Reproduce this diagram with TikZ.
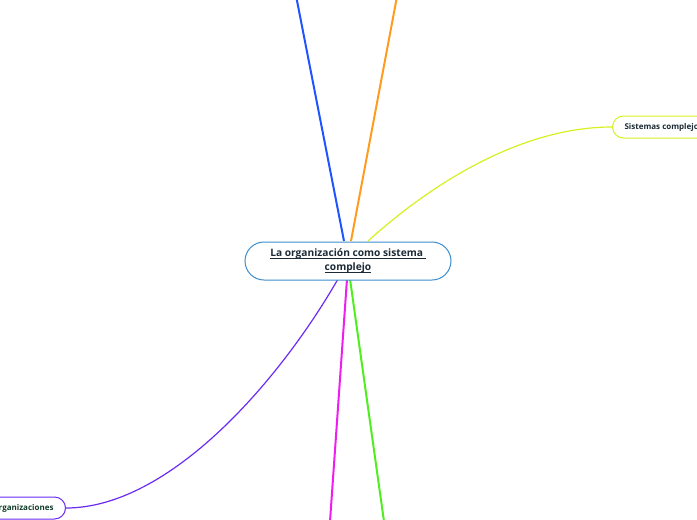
\documentclass[tikz,border=0pt]{standalone}
\usepackage{fontspec}
\setmainfont{Open Sans}
\definecolor{mainborder}{HTML}{3D8ED0}
\definecolor{textdark}{HTML}{1C2B36}
\definecolor{leftdark}{HTML}{123D2A}
\definecolor{lineblue}{HTML}{1F55FF}
\definecolor{lineorange}{HTML}{FF9C1F}
\definecolor{lineyellow}{HTML}{D6F020}
\definecolor{linepurple}{HTML}{6A2BF2}
\definecolor{linemagenta}{HTML}{EE1EEE}
\definecolor{linegreen}{HTML}{4FEE1E}
\newcommand{\undertext}[1]{\setbox0\hbox{#1}\rlap{\rule[-1.8pt]{\wd0}{0.6pt}}\box0}

\tikzset{
	topic/.style={draw, rounded corners=19pt, fill=white, line width=1pt, minimum width=206pt, minimum height=38pt, align=center, text=textdark, font=\fontsize{10.2}{14}\selectfont\bfseries},
	subtopic/.style={draw, rounded corners=11pt, fill=white, line width=1pt, minimum height=22pt, inner xsep=12pt, text=textdark, font=\fontsize{8}{9}\selectfont\bfseries},
	branch/.style={line width=2pt},
}

\begin{document}
\begin{tikzpicture}[x=1pt,y=-1pt]
	\useasboundingbox (0,0) rectangle (697,520);
	\clip (0,0) rectangle (697,520);

	\coordinate (up_left) at (291,-30);
	\coordinate (up_right) at (402,-30);
	\coordinate (down_left) at (328,550);
	\coordinate (down_right) at (388,550);

	\node[subtopic, draw=lineyellow, anchor=west] (complex) at (612,127) {Sistemas complejos};
	\node[subtopic, draw=linepurple, text=leftdark, anchor=east] (orgs) at (66,508) {Organizaciones};

	\draw[branch, lineblue] (344,241) -- (up_left);
	\draw[branch, lineorange] (351,241) -- (up_right);
	\draw[linemagenta, branch] (347,279) -- (down_left);
	\draw[linegreen, branch] (350,279) -- (down_right);
	\draw[lineyellow, line width=1.2pt] (368,241) .. controls (430,185) and (520,127) .. (complex.west);
	\draw[linepurple, line width=1.2pt] (338,279) .. controls (280,380) and (170,508) .. (orgs.east);

	\node[topic, draw=mainborder] (org) at (348,261) {\undertext{La organización como sistema\ }\\\undertext{complejo}};
\end{tikzpicture}
\end{document}
